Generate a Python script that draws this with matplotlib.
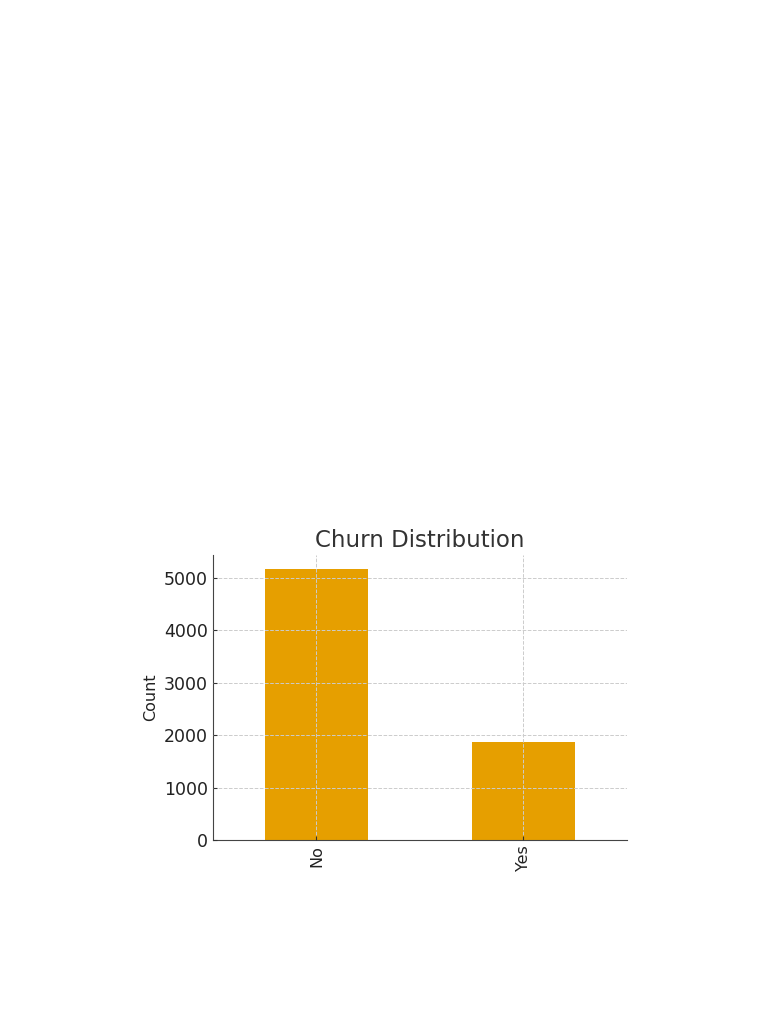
import matplotlib.pyplot as plt

categories = ["No", "Yes"]
counts = [5174, 1869]

fig = plt.figure(figsize=(7.68, 10.24), dpi=100)
ax = fig.add_axes([0.2773, 0.1797, 0.539, 0.2783])

x = range(len(categories))
ax.bar(x, counts, width=0.5, color="#E69F00", zorder=1)
ax.set_xlim(-0.5, 1.5)
ax.set_ylim(0, max(counts) * 1.05)

ax.set_xticks(list(x))
ax.set_xticklabels(categories, rotation=90, fontsize=11.5)
ax.tick_params(axis="y", labelsize=12.5)
ax.tick_params(direction="in", length=3, color="#333333", labelcolor="#222222")
ax.set_ylabel("Count", fontsize=11.5, color="#222222")
ax.set_title("Churn Distribution", fontsize=16.5, color="#333333")

# dashed grid drawn over the bars
ax.grid(True, linestyle="--", color="#cccccc", linewidth=0.7, zorder=2)
ax.set_axisbelow(False)

ax.spines["top"].set_visible(False)
ax.spines["right"].set_visible(False)
ax.spines["left"].set_color("#444444")
ax.spines["bottom"].set_color("#444444")

fig.savefig("out.png", dpi=100)
